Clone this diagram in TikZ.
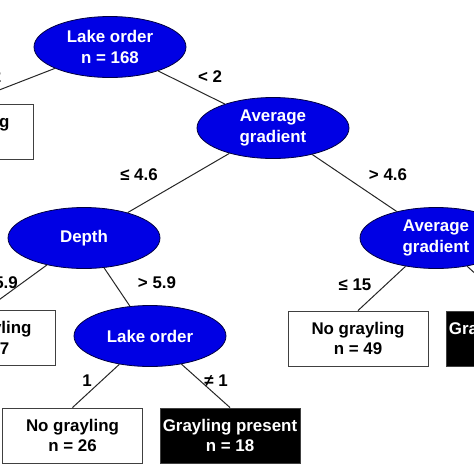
\documentclass[tikz,border=0pt]{standalone}
\usepackage{fontspec}
\setmainfont{Liberation Sans}
\usepackage{tikz}
\usetikzlibrary{shapes.geometric}
\definecolor{splitblue}{RGB}{0,0,228}

\begin{document}
\begin{tikzpicture}[x=1pt,y=-1pt,
	every node/.style={font=\fontsize{16.9}{20.3}\selectfont\bfseries},
	split/.style={ellipse,fill=splitblue,draw=black!75!blue,line width=0.8pt,text=white,minimum width=152pt,minimum height=61pt,inner sep=0pt,align=center},
	leaf/.style={rectangle,draw=black!75,line width=0.9pt,fill=white,minimum width=140pt,minimum height=55pt,inner sep=0pt,align=center},
	present/.style={leaf,fill=black,text=white},
	branch/.style={draw=black!85,line width=1pt},
	cut/.style={inner sep=0pt}]
	\useasboundingbox (0,0) rectangle (474,474);
	\clip (0,0) rectangle (474,474);
	% splits
	\node[split] (root) at (110,47) {Lake order\\n = 168};
	\node[split] (grad) at (273,128) {Average\\gradient};
	\node[split] (depth) at (84,238) {Depth};
	\node[split] (gradb) at (436,238) {Average\\gradient};
	\node[split] (order) at (150,336) {Lake order};
	% leaves
	\node[leaf] (nog1) at (-37,132) {No grayling\\n = 25};
	\node[leaf] (nog2) at (-15,338) {No grayling\\n = 27};
	\node[leaf] (nog3) at (72.5,435.5) {No grayling\\n = 26};
	\node[present] (gp1) at (230,435.5) {Grayling present\\n = 18};
	\node[leaf] (nog4) at (358,338.5) {No grayling\\n = 49};
	\node[present] (gp2) at (516,338.5) {Grayling present\\n = 23};
	% branches
	\draw[branch] (root) -- (nog1.north);
	\draw[branch] (root) -- (grad);
	\draw[branch] (grad) -- (depth);
	\draw[branch] (grad) -- (gradb);
	\draw[branch] (depth) -- (nog2.north);
	\draw[branch] (depth) -- (order);
	\draw[branch] (order) -- (nog3.north);
	\draw[branch] (order) -- (gp1.north);
	\draw[branch] (gradb) -- (nog4.north);
	\draw[branch] (gradb) -- (gp2.north);
	% split values
	\node[cut,anchor=east] (lr) at (1.5,77) {≥ 2};
	\node[cut] (ll) at (210,77) {< 2};
	\node[cut] (dl) at (139,175) {≤ 4.6};
	\node[cut] (dr) at (388,175) {> 4.6};
	\node[cut,anchor=east] (el) at (18,283) {≤ 5.9};
	\node[cut] (er) at (157,283) {> 5.9};
	\node[cut] (gl) at (355,285) {≤ 15};
	\node[cut] (ol) at (87,381) {1};
	\node[cut] (or) at (216,381) {≠ 1};
\end{tikzpicture}
\end{document}
